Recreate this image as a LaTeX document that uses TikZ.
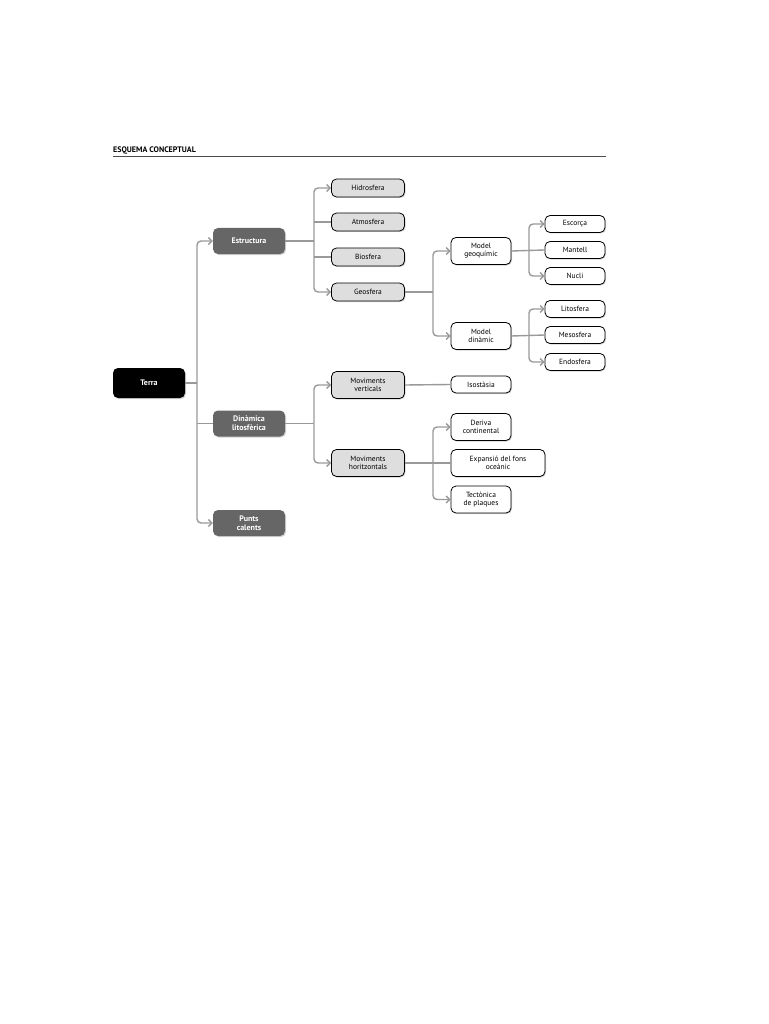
\documentclass[tikz,border=0pt]{standalone}
\usepackage{fontspec}
\setmainfont{PT Sans}
\usetikzlibrary{arrows.meta,shadows}
\begin{document}
\begin{tikzpicture}[x=1pt,y=-1pt,
  base/.style={rounded corners=5pt,align=center,font=\fontsize{7.5}{8}\selectfont,inner sep=1pt,
    drop shadow={shadow xshift=1pt,shadow yshift=-1pt,opacity=0.35}},
  dark/.style={base,fill=black,text=white,font=\bfseries\fontsize{8}{9}\selectfont,minimum width=72pt,minimum height=30pt},
  mid/.style={base,fill=black!60,text=white,font=\bfseries\fontsize{8}{9}\selectfont,minimum width=72pt,minimum height=26pt},
  lite/.style={base,draw=black,line width=0.8pt,fill=black!13,minimum width=73pt,minimum height=18pt},
  lite2/.style={lite,minimum height=27pt},
  leaf/.style={base,draw=black,line width=0.8pt,fill=white,minimum width=60pt,minimum height=17pt},
  leaf2/.style={leaf,minimum height=27pt},
  conn/.style={draw=black!40,line width=1.4pt,rounded corners=4pt},
  arr/.style={conn,-{Straight Barb[length=3.5pt,width=7pt]}}
]
\useasboundingbox (0,0) rectangle (768,1024);
\node[anchor=south west,inner sep=0pt,font=\bfseries\fontsize{8}{9}\selectfont] (title) at (113,154) {ESQUEMA CONCEPTUAL};
\draw[line width=0.5pt,black!70] (113,156.5) -- (606,156.5);

\node[dark] (terra) at (149,383) {Terra};
\node[mid] (estr) at (249,241) {Estructura};
\node[mid] (din) at (249,423.5) {Dinàmica\\litosfèrica};
\node[mid] (punts) at (249,523) {Punts\\calents};

\node[lite] (hid) at (368,188) {Hidrosfera};
\node[lite] (atm) at (368,222) {Atmosfera};
\node[lite] (bio) at (368,257) {Biosfera};
\node[lite] (geo) at (368,292) {Geosfera};

\node[leaf2] (mgq) at (481,251) {Model\\geoquímic};
\node[leaf2] (mdi) at (481,336) {Model\\dinàmic};

\node[leaf] (esc) at (575,224) {Escorça};
\node[leaf] (man) at (575,250) {Mantell};
\node[leaf] (nuc) at (575,276) {Nucli};
\node[leaf] (lit) at (575,309) {Litosfera};
\node[leaf] (mes) at (575,335) {Mesosfera};
\node[leaf] (end) at (575,362) {Endosfera};

\node[lite2] (mv) at (368,385) {Moviments\\verticals};
\node[lite2] (mh) at (368,463) {Moviments\\horitzontals};
\node[leaf] (iso) at (481,384.5) {Isostàsia};
\node[leaf2] (der) at (481,427) {Deriva\\continental};
\node[leaf2,minimum width=94pt] (exp) at (498,463) {Expansió del fons\\oceànic};
\node[leaf2] (tec) at (481,499.5) {Tectònica\\de plaques};

\coordinate (t1) at (197,0);
\coordinate (t2) at (314,0);
\coordinate (t3) at (433,0);
\coordinate (t4) at (529,0);

% Terra
\draw[conn] (terra.east) -- (terra.east -| t1);
\draw[arr] (terra.east -| t1) |- (estr.west);
\draw[arr] (terra.east -| t1) |- (punts.west);
\draw[conn] (din.west -| t1) -- (din.west);
% Estructura
\draw[conn] (estr.east) -- (estr.east -| t2);
\draw[arr] (estr.east -| t2) |- (hid.west);
\draw[arr] (estr.east -| t2) |- (geo.west);
\draw[conn] (atm.west -| t2) -- (atm.west);
\draw[conn] (bio.west -| t2) -- (bio.west);
% Geosfera
\draw[conn] (geo.east) -- (geo.east -| t3);
\draw[arr] (geo.east -| t3) |- (mgq.west);
\draw[arr] (geo.east -| t3) |- (mdi.west);
% Model geoquimic
\draw[conn] (mgq.east) -- (man.west);
\draw[arr] (mgq.east -| t4) |- (esc.west);
\draw[arr] (mgq.east -| t4) |- (nuc.west);
% Model dinamic
\draw[conn] (mdi.east) -- (mes.west);
\draw[arr] (mdi.east -| t4) |- (lit.west);
\draw[arr] (mdi.east -| t4) |- (end.west);
% Dinamica
\draw[conn] (din.east) -- (din.east -| t2);
\draw[arr] (din.east -| t2) |- (mv.west);
\draw[arr] (din.east -| t2) |- (mh.west);
\draw[conn] (mv.east) -- (iso.west);
% Moviments horitzontals
\draw[conn] (mh.east) -- (exp.west);
\draw[arr] (mh.east -| t3) |- (der.west);
\draw[arr] (mh.east -| t3) |- (tec.west);
\end{tikzpicture}
\end{document}
